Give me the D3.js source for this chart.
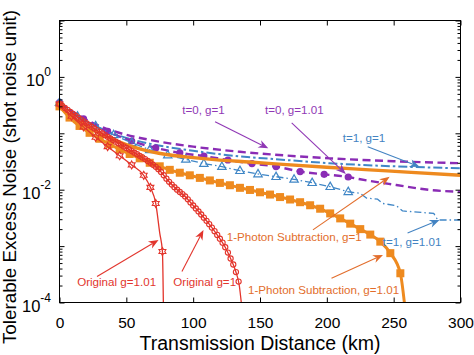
<!DOCTYPE html>
<html><head><meta charset="utf-8">
<script src="https://cdn.jsdelivr.net/npm/d3@7"></script>
<style>
body{margin:0;background:#fff}
svg{display:block}
text{font-family:"Liberation Sans",Arial,Helvetica,sans-serif}
</style>
</head><body>
<svg id="chart" width="474" height="355"></svg>
<script>
// ---------------- data ----------------
const xTicks = [0, 50, 100, 150, 200, 250, 300];
const yLabelExps = [-4, -2, 0];
const yDecadeExps = [-4, -3, -2, -1, 0, 1];

// t=0, g=1 (purple dashed)
const t0g1Km  = [0, 10, 20, 30, 40, 50, 68, 100, 135, 160, 202, 250, 300];
const t0g1Val = [0.35, 0.24, 0.175, 0.135, 0.11, 0.094, 0.076, 0.058, 0.047, 0.042, 0.036, 0.032, 0.0295];

// t=1, g=1 (blue dash-dot)
const t1g1Km  = [0, 10, 20, 30, 40, 50, 68, 100, 135, 160, 202, 250, 300];
const t1g1Val = [0.35, 0.235, 0.165, 0.125, 0.099, 0.083, 0.065, 0.049, 0.039, 0.035, 0.0295, 0.026, 0.024];

// t=0, g=1.01 (purple dashed, filled circles)
const t0g101Km  = [0, 18, 36, 54, 72, 90, 108, 126, 144, 162, 180, 198, 216, 225, 252, 277, 300];
const t0g101Val = [0.35, 0.18, 0.108, 0.073, 0.055, 0.045, 0.0395, 0.0336, 0.029, 0.0257, 0.021, 0.0187, 0.0168, 0.0153, 0.0121, 0.0099, 0.0092];

// t=1, g=1.01 (blue thin dash-dot, open triangles)
const t1g101Km  = [0, 13.5, 27, 40.5, 54, 67.5, 81, 94.5, 108, 121.5, 135, 148.5, 162, 175.5, 189, 202.5, 216, 225, 229.6, 238, 241.8, 252, 256.7, 280, 283, 300];
const t1g101Val = [0.35, 0.2, 0.135, 0.094, 0.068, 0.051, 0.041, 0.0345, 0.029, 0.0257, 0.0217, 0.019, 0.017, 0.0153, 0.0133, 0.0113, 0.0092, 0.0086, 0.0071, 0.0068, 0.0057, 0.0052, 0.0042, 0.0038, 0.0029, 0.0029];

// 1-Photon Subtraction, g=1.01 (orange, filled squares)
const ps101Km  = [0, 7.5, 15, 22.5, 30, 37.5, 45, 52.5, 60, 67.5, 75, 82.5, 90, 97.5, 105, 112.5, 120, 127.5, 135, 142.5, 150, 157.5, 165, 172.5, 180, 187.5, 195, 202.5, 210, 217.5, 225, 232.5, 240, 247.5, 255, 258];
const ps101Val = [0.30, 0.19, 0.135, 0.102, 0.080, 0.064, 0.052, 0.043, 0.036, 0.030, 0.026, 0.0225, 0.020, 0.018, 0.0162, 0.0146, 0.0132, 0.0120, 0.0108, 0.0099, 0.0090, 0.0082, 0.0074, 0.0067, 0.0060, 0.0053, 0.0046, 0.0038, 0.0031, 0.0025, 0.0020, 0.0016, 0.0012, 0.00075, 0.00033, 0.0001];

// 1-Photon Subtraction, g=1 (orange thick solid)
const ps1Km  = [0, 10, 20, 30, 40, 50, 60, 80, 100, 120, 142, 170, 200, 232, 260, 300];
const ps1Val = [0.30, 0.19, 0.135, 0.100, 0.078, 0.063, 0.053, 0.042, 0.037, 0.0335, 0.031, 0.0278, 0.025, 0.0225, 0.0205, 0.018];

// Original g=1 (red, open circles)
const orig1Km  = [0, 20, 40, 55, 66, 75, 82, 88, 94, 100, 106, 112, 118, 124, 128, 132, 134.5, 136];
const orig1Val = [0.331, 0.151, 0.0759, 0.0468, 0.0324, 0.0219, 0.0138, 0.0100, 0.00759, 0.00525, 0.00363, 0.00245, 0.00158, 0.000955, 0.000603, 0.000347, 0.0002, 0.0001];

// Original g=1.01 (red, hexagrams)
const orig101Km  = [0, 9, 18, 27, 36, 45, 54, 63, 68, 72, 75, 77, 77.7];
const orig101Val = [0.33, 0.2, 0.13, 0.085, 0.058, 0.04, 0.0275, 0.018, 0.011, 0.0057, 0.0017, 0.0008, 0.0001];

// ---------------- layout ----------------
const svg = d3.select("#chart");
const L = 59.5, R = 460.5, T = 20.5, B = 302.5;
const x = d3.scaleLinear().domain([0, 300]).range([L, R]);
const y = d3.scaleLog().domain([1e-4, 1e1]).range([B, T]);

const COL = {
  orange: "#EE8A1F", orangeTxt: "#E26D2B",
  red: "#E3342B", redTxt: "#E2352D",
  purple: "#8A2CB5", purpleTxt: "#9038B5",
  blue: "#3F86C6", blueTxt: "#4383C2"
};

svg.append("defs").append("clipPath").attr("id", "plotclip")
  .append("rect").attr("x", L).attr("y", T).attr("width", R - L).attr("height", B - T);

// hexagram path
function hexagram(r) {
  const pts = [];
  for (let i = 0; i < 12; i++) {
    const a = -Math.PI / 2 + i * Math.PI / 6;
    const rr = i % 2 === 0 ? r : r / Math.sqrt(3);
    pts.push([rr * Math.cos(a), rr * Math.sin(a)]);
  }
  return "M" + pts.map(p => p[0].toFixed(2) + "," + p[1].toFixed(2)).join("L") + "Z";
}

const series = [
  {km: t0g1Km, val: t0g1Val, color: COL.purple, width: 2.4, dash: "8,4.5", curve: d3.curveMonotoneX},
  {km: t1g1Km, val: t1g1Val, color: COL.blue, width: 2, dash: "9,3,2.5,3", curve: d3.curveMonotoneX},
  {km: t0g101Km, val: t0g101Val, color: COL.purple, width: 2.4, dash: "8,4.5", curve: d3.curveMonotoneX,
   marker: "dot", mIdx: d3.range(0, 13)},
  {km: t1g101Km, val: t1g101Val, color: COL.blue, width: 1.3, dash: "7,3,1.5,3", curve: d3.curveLinear,
   marker: "tri", mIdx: d3.range(0, 17)},
  {km: ps101Km, val: ps101Val, color: COL.orange, width: 3, curve: d3.curveMonotoneX,
   marker: "sq", mIdx: d3.range(0, ps101Km.length - 1)},
  {km: ps1Km, val: ps1Val, color: COL.orange, width: 3.4, curve: d3.curveMonotoneX},
  {km: orig1Km, val: orig1Val, color: COL.red, width: 1.3, curve: d3.curveMonotoneX,
   marker: "ocircle", sampleKm: d3.range(0, 135, 2)},
  {km: orig101Km, val: orig101Val, color: COL.red, width: 1.3, curve: d3.curveMonotoneX,
   marker: "star", mIdx: [0,1,2,3,4,5,6,7,8,9,11]}
];

const plot = svg.append("g");
series.forEach(s => {
  const pts = s.km.map((k, i) => [k, s.val[i]]);
  const line = d3.line().x(d => x(d[0])).y(d => y(d[1])).curve(s.curve);
  const path = plot.append("path")
    .attr("clip-path", "url(#plotclip)")
    .attr("d", line(pts))
    .attr("fill", "none")
    .attr("stroke", s.color)
    .attr("stroke-width", s.width)
    .attr("stroke-dasharray", s.dash || null)
    .attr("stroke-linejoin", "round");
  if (!s.marker) return;
  let mpts;
  if (s.sampleKm) {
    const node = path.node(), total = node.getTotalLength();
    mpts = s.sampleKm.map(k => {
      const tx = x(k);
      let lo = 0, hi = total;
      for (let i = 0; i < 40; i++) {
        const mid = (lo + hi) / 2;
        if (node.getPointAtLength(mid).x < tx) lo = mid; else hi = mid;
      }
      const p = node.getPointAtLength((lo + hi) / 2);
      return [p.x, p.y];
    });
  } else {
    mpts = s.mIdx.map(i => [x(s.km[i]), y(s.val[i])]);
  }
  const mg = plot.append("g");
  mpts.forEach(p => {
    if (s.marker === "dot") {
      mg.append("circle").attr("cx", p[0]).attr("cy", p[1]).attr("r", 3.6).attr("fill", s.color);
    } else if (s.marker === "tri") {
      mg.append("path").attr("transform", `translate(${p[0]},${p[1]})`)
        .attr("d", "M0,-4.6L4.2,2.8L-4.2,2.8Z").attr("fill", "none")
        .attr("stroke", s.color).attr("stroke-width", 1.2);
    } else if (s.marker === "sq") {
      mg.append("rect").attr("x", p[0] - 4).attr("y", p[1] - 4).attr("width", 8).attr("height", 8)
        .attr("fill", s.color);
    } else if (s.marker === "ocircle") {
      mg.append("circle").attr("cx", p[0]).attr("cy", p[1]).attr("r", 2.6)
        .attr("fill", "none").attr("stroke", s.color).attr("stroke-width", 1.1);
    } else if (s.marker === "star") {
      mg.append("path").attr("transform", `translate(${p[0]},${p[1]})`)
        .attr("d", hexagram(4)).attr("fill", "none")
        .attr("stroke", s.color).attr("stroke-width", 1.1);
    }
  });
});

// ---------------- axes ----------------
const axes = svg.append("g");
const minorVals = [];
yDecadeExps.slice(0, -1).forEach(e => { for (let k = 2; k <= 9; k++) minorVals.push(k * Math.pow(10, e)); });
const majorVals = yDecadeExps.map(e => Math.pow(10, e));

function styleAxis(g) {
  g.select(".domain").remove();
  g.selectAll(".tick line").attr("stroke", "#000").attr("stroke-width", 1);
}
axes.append("g").attr("transform", `translate(0,${B})`)
  .call(d3.axisBottom(x).tickValues(xTicks).tickSize(-5).tickPadding(14).tickFormat(d3.format("d")))
  .call(styleAxis)
  .call(g => g.selectAll("text").attr("font-size", 15.5).attr("fill", "#000")
    .attr("font-family", '"Liberation Sans",Arial,sans-serif'));
axes.append("g").attr("transform", `translate(0,${T})`)
  .call(d3.axisTop(x).tickValues(xTicks).tickSize(-5).tickFormat(""))
  .call(styleAxis);
[[d3.axisLeft, L], [d3.axisRight, R]].forEach(([ax, px]) => {
  axes.append("g").attr("transform", `translate(${px},0)`)
    .call(ax(y).tickValues(majorVals).tickSize(-5).tickFormat(""))
    .call(styleAxis);
  axes.append("g").attr("transform", `translate(${px},0)`)
    .call(ax(y).tickValues(minorVals).tickSize(-3).tickFormat(""))
    .call(styleAxis);
});
axes.append("rect").attr("x", L).attr("y", T).attr("width", R - L).attr("height", B - T)
  .attr("fill", "none").attr("stroke", "#000").attr("stroke-width", 1);

// y tick labels with superscripts
yLabelExps.forEach(e => {
  const t = axes.append("text").attr("x", 51).attr("y", y(Math.pow(10, e)) + 9.5)
    .attr("text-anchor", "end").attr("font-size", 16.5).attr("fill", "#000");
  t.append("tspan").text("10");
  t.append("tspan").attr("dy", -10.5).attr("font-size", 12).text(e === 0 ? "0" : "-" + Math.abs(e));
});

// axis titles
svg.append("text").attr("x", 260).attr("y", 350).attr("text-anchor", "middle")
  .attr("font-size", 19.5).attr("fill", "#000").text("Transmission Distance (km)");
svg.append("text").attr("transform", "translate(16,177) rotate(-90)").attr("text-anchor", "middle")
  .attr("font-size", 18.8).attr("fill", "#000").text("Tolerable Excess Noise (shot noise unit)");

// ---------------- annotations (km, log10 value) ----------------
const annotations = [
  {text: "t=0, g=1", color: COL.purpleTxt, tk: 91.8, te: -0.66, a: [116.4, -0.797, 156.2, -1.267]},
  {text: "t=0, g=1.01", color: COL.purpleTxt, tk: 153.7, te: -0.66, a: [173.7, -0.814, 214.2, -1.722]},
  {text: "t=1, g=1", color: COL.blueTxt, tk: 211.9, te: -1.156, a: [230.6, -1.239, 269.4, -1.593]},
  {text: "t=1, g=1.01", color: COL.blueTxt, tk: 241.8, te: -2.996, a: [260.4, -2.766, 284.3, -2.536]},
  {text: "1-Photon Subtraction, g=1", color: COL.orangeTxt, tk: 125.1, te: -2.908, a: [189.6, -2.713, 247.0, -1.770]},
  {text: "1-Photon Subtraction, g=1.01", color: COL.orangeTxt, tk: 141.0, te: -3.846, a: [203.5, -3.568, 242.0, -3.156]},
  {text: "Original g=1", color: COL.redTxt, tk: 85.1, te: -3.704, a: [91.6, -3.451, 107.7, -2.713]},
  {text: "Original g=1.01", color: COL.redTxt, tk: 13.2, te: -3.704, a: [28.1, -3.540, 74.1, -2.890]}
];
const ann = svg.append("g");
function arrow(x1, y1, x2, y2, color) {
  const dx = x2 - x1, dy = y2 - y1, len = Math.hypot(dx, dy), ux = dx / len, uy = dy / len;
  const hl = 10, hw = 4, notch = 7;
  ann.append("line").attr("x1", x1).attr("y1", y1)
    .attr("x2", x2 - ux * notch).attr("y2", y2 - uy * notch)
    .attr("stroke", color).attr("stroke-width", 1.1);
  const pts = [
    [x2, y2],
    [x2 - ux * hl - uy * hw, y2 - uy * hl + ux * hw],
    [x2 - ux * notch, y2 - uy * notch],
    [x2 - ux * hl + uy * hw, y2 - uy * hl - ux * hw]
  ];
  ann.append("path").attr("d", "M" + pts.map(p => p.join(",")).join("L") + "Z").attr("fill", color);
}
annotations.forEach(a => {
  ann.append("text").attr("x", x(a.tk)).attr("y", y(Math.pow(10, a.te)))
    .attr("font-size", 11.6).attr("fill", a.color).text(a.text);
  arrow(x(a.a[0]), y(Math.pow(10, a.a[1])), x(a.a[2]), y(Math.pow(10, a.a[3])), a.color);
});
</script>
</body></html>
